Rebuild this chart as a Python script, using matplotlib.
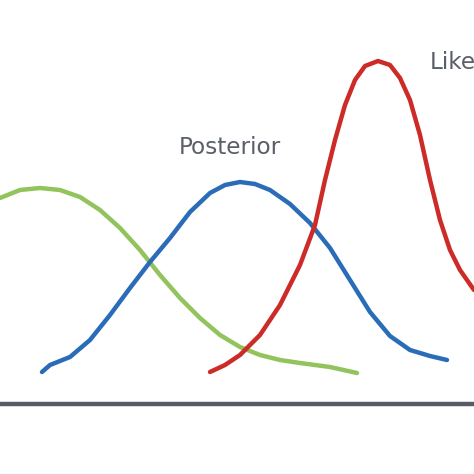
import matplotlib
matplotlib.use("Agg")
import matplotlib.pyplot as plt
import numpy as np

prior_x = [0,20,40,60,80,100,120,140,160,180,200,220,240,260,280,300,330,357]
prior_y = [198,190,188,190,197,210,228,250,275,298,318,335,347,355,360,363,367,373]
post_x = [42,50,70,90,110,130,150,170,190,210,225,240,255,270,290,310,330,350,370,390,410,430,447]
post_y = [372,365,357,340,315,288,262,238,212,193,185,182,184,190,204,223,248,280,312,336,350,356,360]
like_x = [210,225,240,260,280,300,315,325,335,345,355,365,378,390,400,410,420,430,440,450,460,474]
like_y = [372,365,355,335,305,265,225,180,140,105,80,66,61,65,78,100,135,180,220,250,270,290]
labels = ["Posterior", "Likelihood"]

fig = plt.figure(figsize=(4.74,4.74), dpi=100)
ax = fig.add_axes([0,0,1,1])
ax.set_xlim(0,474); ax.set_ylim(474,0); ax.axis("off")
kw = dict(lw=3.2, solid_capstyle="round", solid_joinstyle="round")
ax.plot(prior_x, prior_y, color="#92c35c", **kw)
ax.plot(post_x, post_y, color="#2b6cb9", **kw)
ax.plot(like_x, like_y, color="#cc2b27", **kw)
ax.plot([0,474],[404,404], color="#575c66", lw=3.2)
ax.text(230,147,labels[0],fontsize=16.7,color="#5a5f69",ha="center",va="center")
ax.text(430,62,labels[1],fontsize=16.7,color="#5a5f69",ha="left",va="center")
fig.savefig("out.png", dpi=100)
